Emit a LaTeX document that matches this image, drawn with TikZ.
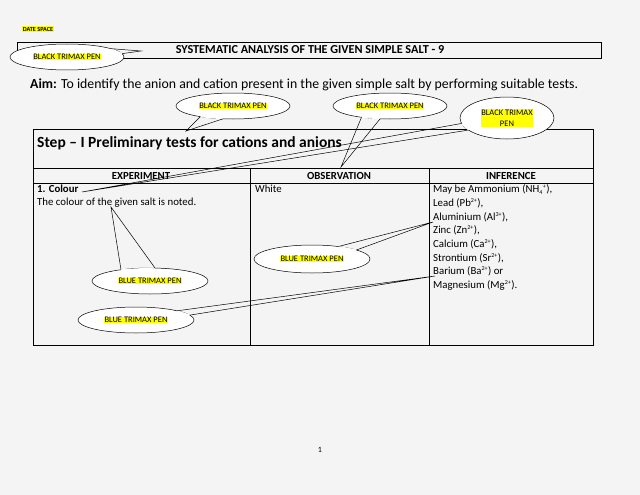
\documentclass[tikz,border=0pt]{standalone}
\usepackage{fontspec}
\setmainfont{Carlito}
\usetikzlibrary{calc}
\definecolor{bg}{HTML}{F4F4F4}
\definecolor{hl}{HTML}{FFFF00}
\tikzset{
  hltext/.style={fill=hl,inner sep=0.6pt,font=\fontsize{8.5}{9}\selectfont},
  bubble/.style={draw,fill=white,line width=0.5pt},
  tbl/.style={draw,line width=0.7pt},
  cell/.style={anchor=north west,inner sep=0pt,font=\fontsize{10.8}{13.7}\selectfont,align=left},
}
\newcommand{\sups}[1]{\textsuperscript{\fontsize{6}{6}\selectfont #1}}
\newcommand{\mycallout}[7]{%
  \path[bubble] (#1) ellipse [x radius=#2, y radius=#3];
  \coordinate (b1) at ($(#1)+(#4:#2 and #3)$);
  \coordinate (b2) at ($(#1)+(#5:#2 and #3)$);
  \draw[white,line width=1.2pt] (b1) -- (b2);
  \draw[line width=0.5pt] (b1) -- (#6) -- (b2);
  \node[hltext,align=center] at (#1) {#7};
}
\begin{document}
\begin{tikzpicture}[x=1pt,y=-1pt]
\fill[bg] (0,0) rectangle (640,495);
\useasboundingbox (0,0) rectangle (640,495);
\node[hltext,font=\fontsize{6.2}{7}\selectfont\bfseries] (date) at (38,29) {DATE SPACE};
\node[tbl,minimum width=584pt,minimum height=16pt,inner sep=0pt,anchor=north west] (title) at (17,42) {};
\node[font=\fontsize{12.2}{14}\selectfont\bfseries] (tt) at (310,50) {SYSTEMATIC ANALYSIS OF THE GIVEN SIMPLE SALT - 9};
\node[anchor=west,inner sep=0pt,font=\fontsize{13.8}{15}\selectfont] (aim) at (30,85) {\textbf{Aim:} To identify the anion and cation present in the given simple salt by performing suitable tests.};
% table
\draw[tbl] (33,129) rectangle (593,345);
\draw[tbl] (33,168) -- (593,168);
\draw[tbl] (33,183) -- (593,183);
\draw[tbl] (250,168) -- (250,345);
\draw[tbl] (429,168) -- (429,345);
\node[anchor=west,inner sep=0pt,font=\fontsize{15.5}{17}\selectfont\bfseries] (step) at (37,143) {Step -- I Preliminary tests for cations and anions};
\node[font=\fontsize{10.8}{12}\selectfont\bfseries] (h1) at (141,175.5) {EXPERIMENT};
\node[font=\fontsize{10.8}{12}\selectfont\bfseries] (h2) at (339,175.5) {OBSERVATION};
\node[font=\fontsize{10.8}{12}\selectfont\bfseries] (h3) at (511,175.5) {INFERENCE};
\node[cell] (exp) at (37,184.5) {\textbf{1. Colour}\\The colour of the given salt is noted.};
\node[cell] (obs) at (255,184.5) {White};
\node[cell] (inf) at (433,184.5) {May be Ammonium (NH\textsubscript{\fontsize{6}{6}\selectfont 4}\sups{+}),\\Lead (Pb\sups{2+}),\\Aluminium (Al\sups{3+}),\\Zinc (Zn\sups{2+}),\\Calcium (Ca\sups{2+}),\\Strontium (Sr\sups{2+}),\\Barium (Ba\sups{2+}) or\\Magnesium (Mg\sups{2+}).};
\node[font=\fontsize{8}{9}\selectfont] (pg) at (320,450) {1};
% tips
\coordinate (t1) at (141,51);
\coordinate (t2) at (186,131);
\coordinate (t3) at (341,167);
\coordinate (t4) at (82,192);
\coordinate (t5) at (111,207);
\coordinate (t6) at (435,276);
\coordinate (t7) at (433,222);
\mycallout{67,57}{57}{13}{-40}{-15}{t1}{BLACK TRIMAX PEN}
\mycallout{233,106}{57}{13}{125}{100}{t2}{BLACK TRIMAX PEN}
\mycallout{390,106}{57}{13}{120}{100}{t3}{BLACK TRIMAX PEN}
\mycallout{507,118}{47}{21}{165}{145}{t4}{BLACK TRIMAX\\[2pt]PEN}
\mycallout{150,281}{58}{13}{-120}{-85}{t5}{BLUE TRIMAX PEN}
\mycallout{136,320}{58}{13}{-45}{-22}{t6}{BLUE TRIMAX PEN}
\mycallout{312,259}{58}{14}{-63}{-40}{t7}{BLUE TRIMAX PEN}
\end{tikzpicture}
\end{document}
